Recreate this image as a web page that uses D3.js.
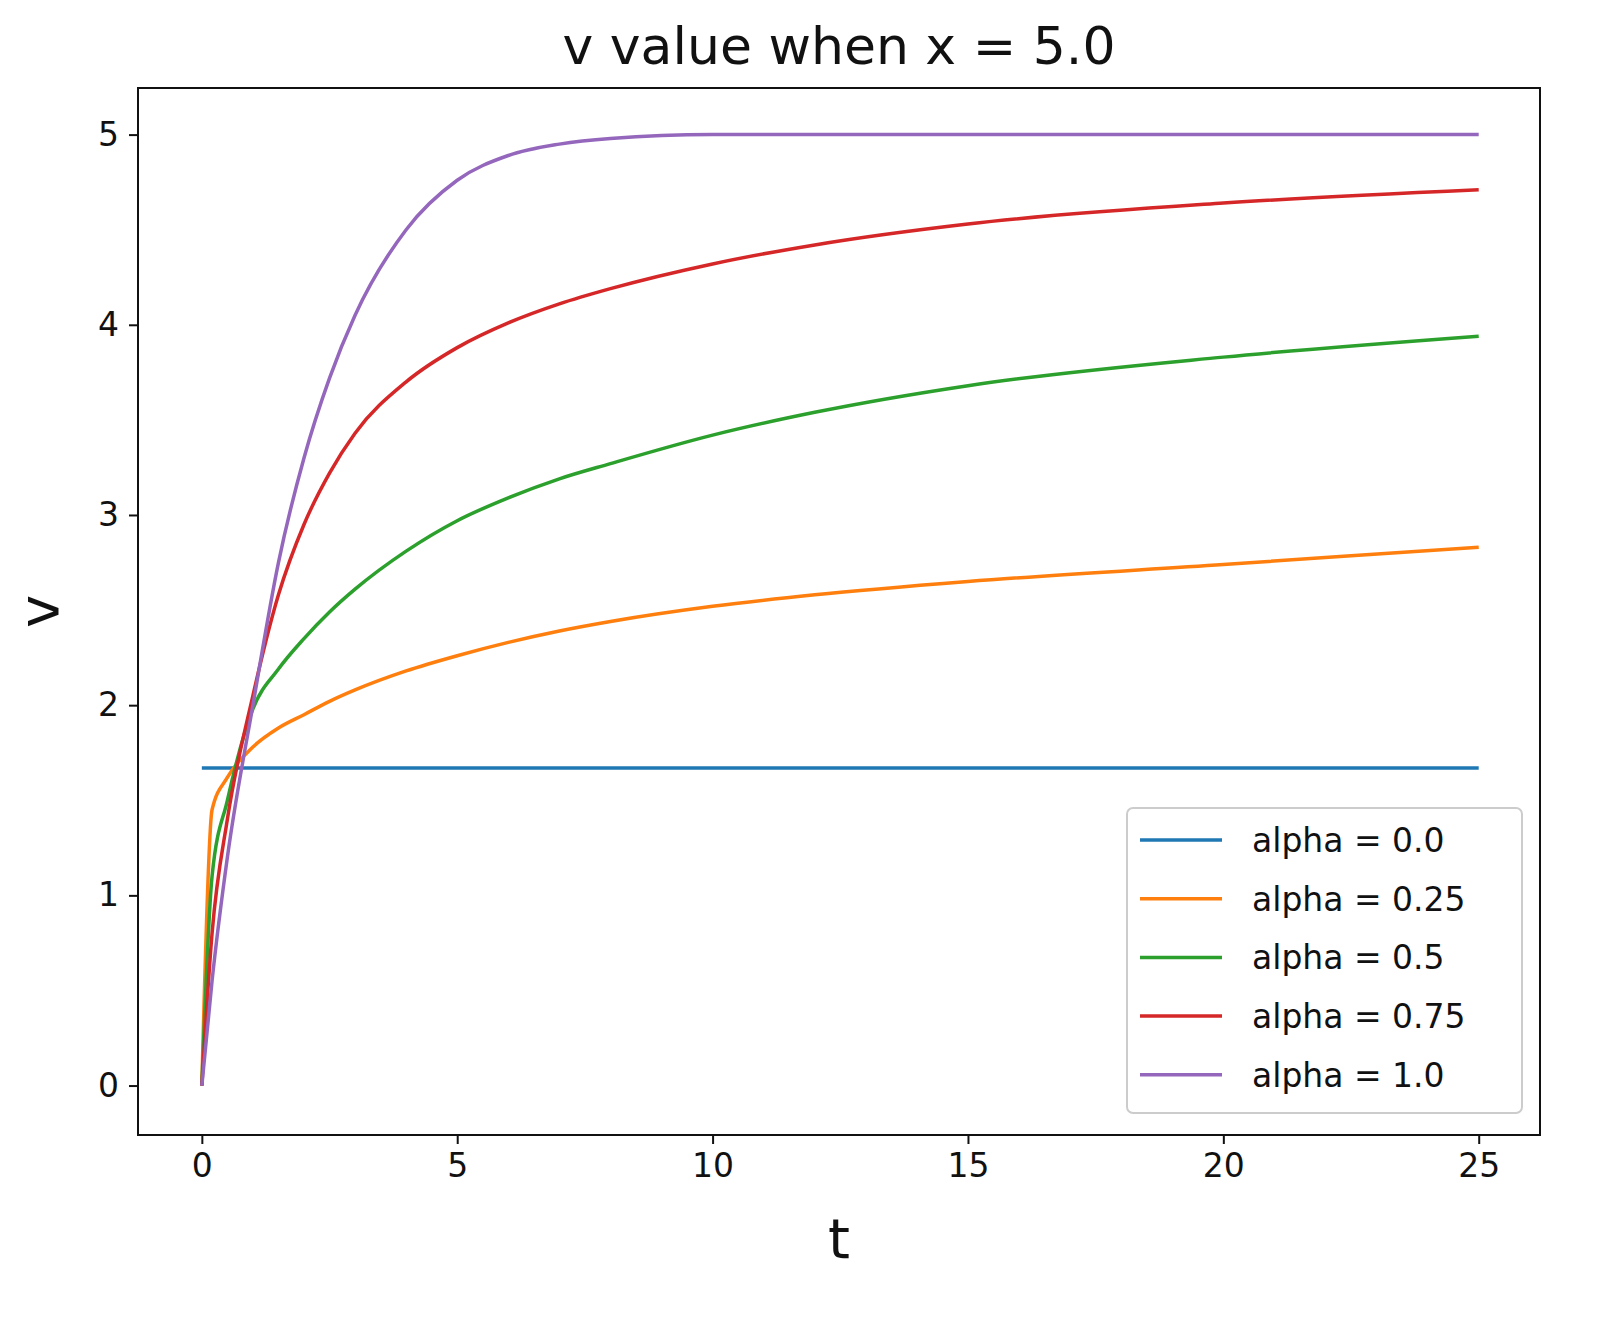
<!DOCTYPE html>
<html><head><meta charset="utf-8">
<script src="https://cdn.jsdelivr.net/npm/d3@7"></script>
<style>body{margin:0;background:#fff}text{font-family:"DejaVu Sans",sans-serif;fill:#111}</style>
</head><body><svg id="c" width="1606" height="1319"></svg>
<script>
// values
const tVals = [0, 0.2, 0.5, 1, 1.5, 2, 2.5, 3, 4, 5, 6, 7, 8, 10, 12, 15, 20, 25];
const alpha00 = [1.67, 1.67, 1.67, 1.67, 1.67, 1.67, 1.67, 1.67, 1.67, 1.67, 1.67, 1.67, 1.67, 1.67, 1.67, 1.67, 1.67, 1.67];
const alpha025 = [0, 1.45, 1.62, 1.78, 1.88, 1.95, 2.02, 2.08, 2.18, 2.26, 2.33, 2.39, 2.44, 2.52, 2.58, 2.65, 2.74, 2.83];
const alpha05 = [0, 1.1, 1.5, 1.98, 2.19, 2.35, 2.49, 2.61, 2.81, 2.97, 3.09, 3.19, 3.27, 3.42, 3.54, 3.68, 3.83, 3.94];
const alpha075 = [0, 0.8, 1.4, 2.05, 2.58, 2.95, 3.22, 3.43, 3.70, 3.88, 4.01, 4.11, 4.19, 4.32, 4.42, 4.53, 4.64, 4.71];
const alpha10 = [0, 0.55, 1.2, 2.0, 2.75, 3.3, 3.72, 4.05, 4.5, 4.76, 4.89, 4.95, 4.98, 5.0, 5.0, 5.0, 5.0, 5.0];
const labels = ["alpha = 0.0", "alpha = 0.25", "alpha = 0.5", "alpha = 0.75", "alpha = 1.0"];
const colors = ["#1f77b4", "#ff7f0e", "#2ca02c", "#d62728", "#9467bd"];
const xTicks = [0, 5, 10, 15, 20, 25];
const yTicks = [0, 1, 2, 3, 4, 5];
const series = [alpha00, alpha025, alpha05, alpha075, alpha10];

const L = 138, R = 1540, T = 88, B = 1135;
const svg = d3.select("#c");
const x = d3.scaleLinear().domain([-1.25, 26.2]).range([L, R]);
const y = d3.scaleLinear().domain([-0.26, 5.245]).range([B, T]);

svg.append("text").attr("x", (L + R) / 2).attr("y", 64).attr("text-anchor", "middle")
  .style("font-size", "52px").text("v value when x = 5.0");

const line = d3.line().x((d, i) => x(tVals[i])).y(d => y(d)).curve(d3.curveMonotoneX);
series.forEach((s, k) => {
  svg.append("path").datum(s).attr("d", line).attr("fill", "none")
    .attr("stroke", colors[k]).attr("stroke-width", 3.5);
});

const gx = svg.append("g").attr("transform", `translate(0,${B})`)
  .call(d3.axisBottom(x).tickValues(xTicks).tickFormat(d3.format("d")).tickSize(9).tickPadding(10));
const gy = svg.append("g").attr("transform", `translate(${L},0)`)
  .call(d3.axisLeft(y).tickValues(yTicks).tickFormat(d3.format("d")).tickSize(9).tickPadding(10));
[gx, gy].forEach(g => {
  g.select(".domain").remove();
  g.selectAll("line").attr("stroke", "#111").attr("stroke-width", 2);
  g.selectAll("text").style("font-size", "33px").attr("fill", "#111");
});
svg.append("rect").attr("x", L).attr("y", T).attr("width", R - L).attr("height", B - T)
  .attr("fill", "none").attr("stroke", "#111").attr("stroke-width", 2);

svg.append("text").attr("x", (L + R) / 2).attr("y", 1258).attr("text-anchor", "middle")
  .style("font-size", "56px").text("t");
svg.append("text").attr("transform", `translate(58,${(T + B) / 2}) rotate(-90)`)
  .attr("text-anchor", "middle").style("font-size", "56px").text("v");

const lg = svg.append("g");
lg.append("rect").attr("x", 1127).attr("y", 808).attr("width", 395).attr("height", 305)
  .attr("rx", 6).attr("fill", "#fff").attr("fill-opacity", 0.8).attr("stroke", "#ccc").attr("stroke-width", 2);
labels.forEach((lab, i) => {
  const yy = 840 + i * 58.7;
  lg.append("line").attr("x1", 1140).attr("x2", 1222).attr("y1", yy).attr("y2", yy)
    .attr("stroke", colors[i]).attr("stroke-width", 3.5);
  lg.append("text").attr("x", 1252).attr("y", yy + 12).style("font-size", "33px").text(lab);
});
</script></body></html>
